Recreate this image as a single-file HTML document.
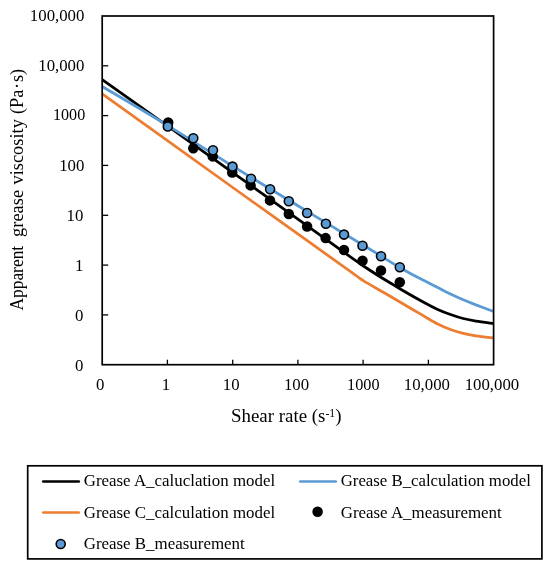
<!DOCTYPE html><html><head><meta charset="utf-8"><title>chart</title><style>html,body{margin:0;padding:0;background:#fff}svg{display:block}text{font-family:"Liberation Serif","Times New Roman",serif;fill:#000}</style></head><body>
<svg width="550" height="569" viewBox="0 0 550 569">
<rect width="550" height="569" fill="#fff"/>
<g fill="none" stroke-width="2.75" stroke-linejoin="round">
<path d="M102.20 79.60 C112.67 87.03 143.93 109.20 165.00 124.20 C186.07 139.20 206.10 153.53 228.60 169.60 C251.10 185.67 277.77 204.70 300.00 220.60 C322.23 236.50 345.63 253.82 362.00 265.00 C378.37 276.18 387.70 281.37 398.20 287.70 C408.70 294.03 418.42 299.38 425.00 303.00 C431.58 306.62 433.45 307.48 437.70 309.40 C441.95 311.32 446.25 312.98 450.50 314.50 C454.75 316.02 458.97 317.40 463.20 318.50 C467.43 319.60 470.83 320.27 475.90 321.10 C480.97 321.93 490.65 323.10 493.60 323.50" stroke="#000"/>
<path d="M102.20 86.50 C112.67 92.73 143.93 111.05 165.00 123.90 C186.07 136.75 206.10 149.75 228.60 163.60 C251.10 177.45 277.27 193.23 300.00 207.00 C322.73 220.77 347.58 235.65 365.00 246.20 C382.42 256.75 394.50 264.50 404.50 270.30 C414.50 276.10 419.47 278.13 425.00 281.00 C430.53 283.87 433.45 285.33 437.70 287.50 C441.95 289.67 446.25 291.95 450.50 294.00 C454.75 296.05 458.97 297.98 463.20 299.80 C467.43 301.62 470.83 302.95 475.90 304.90 C480.97 306.85 490.65 310.40 493.60 311.50" stroke="#5b9bd5"/>
<path d="M102.20 93.80 C122.22 108.17 190.82 157.43 222.30 180.00 C253.78 202.57 269.48 213.77 291.10 229.20 C312.72 244.63 339.92 264.00 352.00 272.60 C364.08 281.20 358.02 277.32 363.60 280.80 C369.18 284.28 377.18 288.63 385.50 293.50 C393.82 298.37 406.92 306.13 413.50 310.00 C420.08 313.87 420.97 314.37 425.00 316.70 C429.03 319.03 433.45 321.87 437.70 324.00 C441.95 326.13 446.25 327.95 450.50 329.50 C454.75 331.05 458.97 332.25 463.20 333.30 C467.43 334.35 470.83 335.00 475.90 335.80 C480.97 336.60 490.65 337.72 493.60 338.10" stroke="#ed7d31"/>
</g>
<g fill="#000">
<circle cx="168.2" cy="122.5" r="5.25"/>
<circle cx="193.3" cy="148.3" r="5.25"/>
<circle cx="212.7" cy="156.4" r="5.25"/>
<circle cx="232.2" cy="172.5" r="5.25"/>
<circle cx="250.6" cy="185.4" r="5.25"/>
<circle cx="270.0" cy="200.4" r="5.25"/>
<circle cx="288.8" cy="214.0" r="5.25"/>
<circle cx="307.1" cy="226.5" r="5.25"/>
<circle cx="325.6" cy="238.1" r="5.25"/>
<circle cx="344.0" cy="250.0" r="5.25"/>
<circle cx="362.5" cy="260.7" r="5.25"/>
<circle cx="381.0" cy="270.5" r="5.25"/>
<circle cx="399.8" cy="282.3" r="5.25"/>
</g>
<g fill="#5b9bd5" stroke="#000" stroke-width="1.6">
<circle cx="167.8" cy="126.5" r="4.5"/>
<circle cx="193.3" cy="138.3" r="4.5"/>
<circle cx="213.0" cy="150.3" r="4.5"/>
<circle cx="232.5" cy="166.6" r="4.5"/>
<circle cx="251.0" cy="178.8" r="4.5"/>
<circle cx="270.1" cy="189.3" r="4.5"/>
<circle cx="288.8" cy="201.3" r="4.5"/>
<circle cx="307.1" cy="213.0" r="4.5"/>
<circle cx="325.9" cy="223.7" r="4.5"/>
<circle cx="344.0" cy="234.6" r="4.5"/>
<circle cx="362.5" cy="245.7" r="4.5"/>
<circle cx="381.0" cy="256.3" r="4.5"/>
<circle cx="399.8" cy="267.3" r="4.5"/>
</g>
<rect x="102.2" y="16.0" width="391.4" height="348.7" fill="none" stroke="#000" stroke-width="1.7"/>
<g stroke="#000" stroke-width="1.3">
<line x1="167.4" y1="364.7" x2="167.4" y2="359.7"/>
<line x1="232.7" y1="364.7" x2="232.7" y2="359.7"/>
<line x1="297.9" y1="364.7" x2="297.9" y2="359.7"/>
<line x1="363.1" y1="364.7" x2="363.1" y2="359.7"/>
<line x1="428.4" y1="364.7" x2="428.4" y2="359.7"/>
<line x1="102.2" y1="65.8" x2="108.2" y2="65.8"/>
<line x1="102.2" y1="115.6" x2="108.2" y2="115.6"/>
<line x1="102.2" y1="165.4" x2="108.2" y2="165.4"/>
<line x1="102.2" y1="215.3" x2="108.2" y2="215.3"/>
<line x1="102.2" y1="265.1" x2="108.2" y2="265.1"/>
<line x1="102.2" y1="314.9" x2="108.2" y2="314.9"/>
</g>
<g font-size="16.8" text-anchor="end">
<text x="84.4" y="21.3">100,000</text>
<text x="84.4" y="71.1">10,000</text>
<text x="85.2" y="120.1" textLength="32.2" lengthAdjust="spacingAndGlyphs">1000</text>
<text x="84.4" y="170.7">100</text>
<text x="83.3" y="221.2">10</text>
<text x="83.3" y="271.0">1</text>
<text x="83.3" y="320.8">0</text>
<text x="83.3" y="370.6">0</text>
</g>
<g font-size="16.8" text-anchor="middle">
<text x="100.2" y="389.8">0</text>
<text x="165.9" y="389.8">1</text>
<text x="231.2" y="389.8">10</text>
<text x="296.5" y="389.8">100</text>
<text x="363.3" y="389.8" textLength="32.4" lengthAdjust="spacingAndGlyphs">1000</text>
<text x="426.9" y="389.8">10,000</text>
<text x="491.9" y="389.8">100,000</text>
</g>
<text font-size="18.9" x="231" y="422.2">Shear rate (s<tspan font-size="11.8" dy="-5">-1</tspan><tspan dy="5">)</tspan></text>
<text font-size="18.4" textLength="64.8" lengthAdjust="spacingAndGlyphs" transform="translate(23.2,310.6) rotate(-90)">Apparent</text>
<text font-size="18.4" transform="translate(23.2,236.9) rotate(-90)">grease</text>
<text font-size="18.4" transform="translate(23.2,184.5) rotate(-90)">viscosity</text>
<text font-size="18.4" transform="translate(23.2,114.1) rotate(-90)">(Pa<tspan dx="0.7">·</tspan><tspan dx="0.7">s)</tspan></text>
<rect x="27.7" y="465.8" width="514.2" height="93.1" fill="#fff" stroke="#000" stroke-width="1.7"/>
<g stroke-width="2.5" fill="none" stroke-linecap="round">
<line x1="43.2" y1="481.5" x2="78.8" y2="481.5" stroke="#000"/>
<line x1="43.2" y1="512.6" x2="78.8" y2="512.6" stroke="#ed7d31"/>
<line x1="300.2" y1="481.5" x2="335.8" y2="481.5" stroke="#5b9bd5"/>
</g>
<circle cx="60.7" cy="544" r="4.5" fill="#5b9bd5" stroke="#000" stroke-width="1.6"/>
<circle cx="317.6" cy="511.7" r="5.25" fill="#000"/>
<g font-size="16.8">
<text x="83.7" y="486.4" textLength="191.5" lengthAdjust="spacingAndGlyphs">Grease A_caluclation model</text>
<text x="83.7" y="517.7" textLength="191.5" lengthAdjust="spacingAndGlyphs">Grease C_calculation model</text>
<text x="83.7" y="549.2" textLength="161" lengthAdjust="spacingAndGlyphs">Grease B_measurement</text>
<text x="340.7" y="486.4">Grease B_calculation model</text>
<text x="340.7" y="517.7" textLength="161" lengthAdjust="spacingAndGlyphs">Grease A_measurement</text>
</g>
</svg></body></html>
